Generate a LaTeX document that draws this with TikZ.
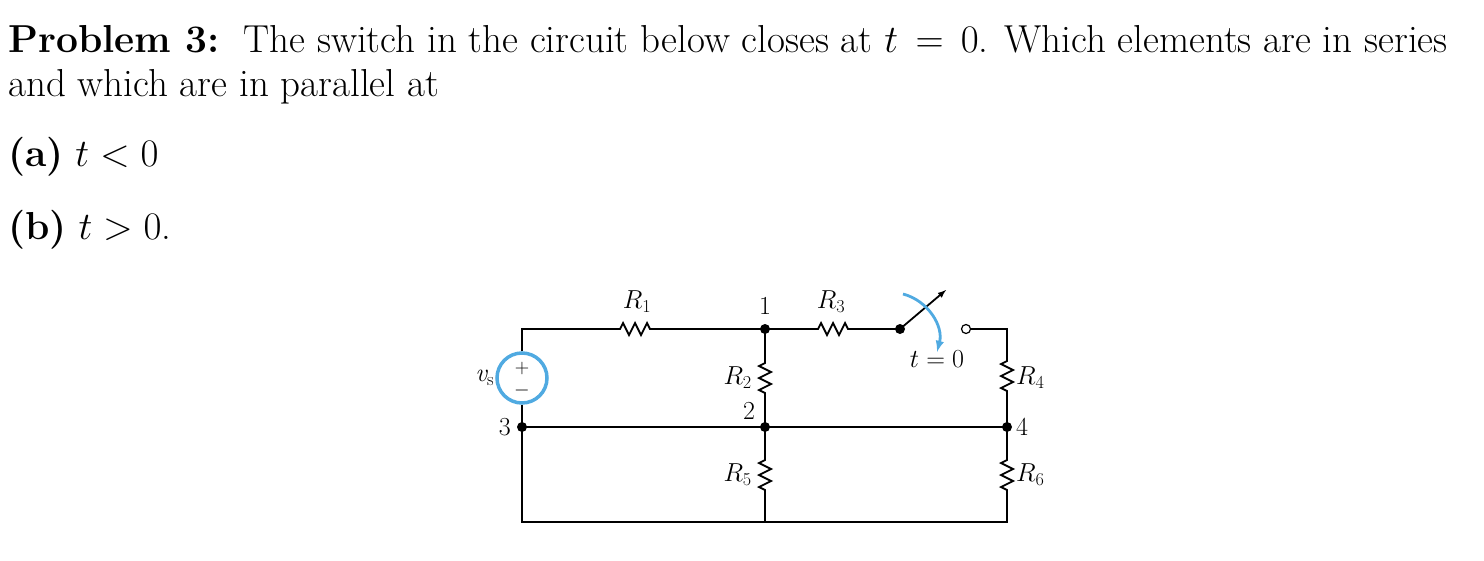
\RequirePackage{fix-cm}
\documentclass[tikz,border=0pt]{standalone}
\usepackage{amsmath}
\usepackage{xcolor}
\usepackage{tikz}
\definecolor{srcblue}{RGB}{80,170,225}
\tikzstyle{wire} = [line width=1.8pt]
\tikzstyle{dot} = [circle, fill=black, inner sep=0pt, minimum size=10pt]
\tikzstyle{txt} = [anchor=base west, inner sep=0pt, font=\fontsize{39}{45}\selectfont]
\tikzstyle{lbl} = [inner sep=1pt, font=\fontsize{26}{28}\selectfont]
\tikzset{res/.pic={\draw[wire] (-18,0) -- (-15,0) -- (-12,-6) -- (-6,6) -- (0,-6) -- (6,6) -- (12,-6) -- (15,0) -- (18,0);}}

\begin{document}
\begin{tikzpicture}[x=1pt, y=-1pt]
		\useasboundingbox (0,0) rectangle (1484,560);
		% text
		\node[txt] (l1) at (8,52) {\textbf{Problem 3:}\ \ The switch in the circuit below closes at $t\,=\,0$. Which elements are in series};
		\node[txt] (l2) at (8,96) {and which are in parallel at};
		\node[txt] (qa) at (8,166) {\textbf{(a)} $t<0$};
		\node[txt] (qb) at (8,239) {\textbf{(b)} $t>0$.};

		% corners and nodes
		\coordinate (tl) at (522,329);
		\coordinate (n1) at (765,329);
		\coordinate (sw) at (900,329);
		\coordinate (tr) at (1007,329);
		\coordinate (n3) at (522,427);
		\coordinate (n2) at (765,427);
		\coordinate (n4) at (1007,427);
		\coordinate (bl) at (522,522);
		\coordinate (bm) at (765,522);
		\coordinate (br) at (1007,522);
		\node[circle, draw=srcblue, line width=3.5pt, minimum size=50pt, inner sep=0pt] (vs) at (522,378) {};
		\node[draw, circle, line width=1.2pt, fill=white, inner sep=0pt, minimum size=9pt] (open) at (966,329) {};

		% resistors
		\pic at (635,329) {res};
		\pic at (833,329) {res};
		\pic[rotate=90] at (765,378) {res};
		\pic[rotate=90] at (1007,376) {res};
		\pic[rotate=90] at (765,475) {res};
		\pic[rotate=90] at (1007,475) {res};

		% wires
		\draw[wire] (vs) -- (tl) -- (617,329);
		\draw[wire] (653,329) -- (n1) -- (815,329);
		\draw[wire] (851,329) -- (sw);
		\draw[wire] (open) -- (tr) -- (1007,358);
		\draw[wire] (n1) -- (765,360);
		\draw[wire] (765,396) -- (n2) -- (765,457);
		\draw[wire] (1007,394) -- (n4) -- (1007,457);
		\draw[wire] (vs) -- (n3) -- (n2) -- (n4);
		\draw[wire] (n3) -- (bl) -- (bm) -- (br) -- (1007,493);
		\draw[wire] (bm) -- (765,493);
		\draw[wire, -latex] (sw) -- (946,290);
		\draw[srcblue, line width=2.8pt, -latex] (903,294) to[bend left=45] (937,352);

		\node[dot] at (n1) {};
		\node[dot] at (n2) {};
		\node[dot] at (n3) {};
		\node[dot] at (n4) {};
		\node[dot] at (sw) {};

		% labels
		\node[lbl, inner sep=0pt, font=\fontsize{20}{22}\selectfont] at (vs.center) [yshift=10pt] {$+$};
		\node[lbl, inner sep=0pt, font=\fontsize{20}{22}\selectfont] at (vs.center) [yshift=-12pt] {$-$};
		\node[lbl, anchor=east] at (vs.west) {$\mathit{v}_\mathrm{s}$};
		\node[lbl] at (637,302) {$R_1$};
		\node[lbl] at (765,306) {1};
		\node[lbl] at (831,302) {$R_3$};
		\node[lbl] at (937,359) {$t=0$};
		\node[lbl, anchor=east] at (753,378) {$R_2$};
		\node[lbl] at (749,411) {2};
		\node[lbl, anchor=east] at (512,427) {3};
		\node[lbl, anchor=west] at (1015,378) {$R_4$};
		\node[lbl, anchor=west] at (1015,427) {4};
		\node[lbl, anchor=east] at (753,475) {$R_5$};
		\node[lbl, anchor=west] at (1015,475) {$R_6$};
	\end{tikzpicture}
\end{document}
